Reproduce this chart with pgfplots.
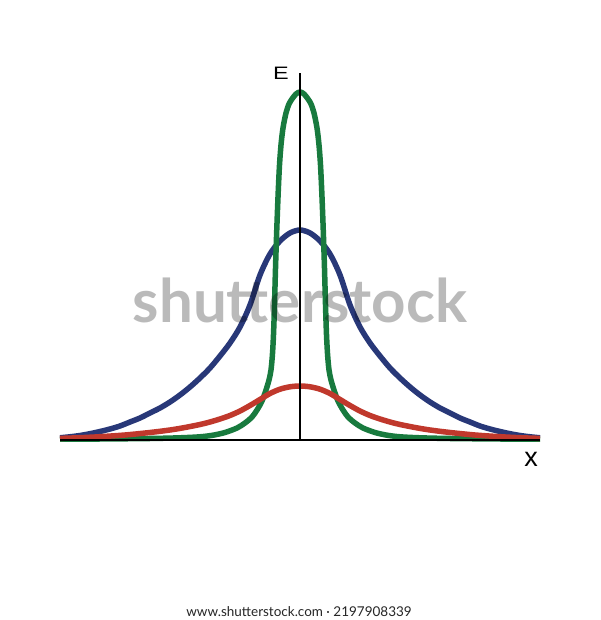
\documentclass[border=0pt]{standalone}
\usepackage{pgfplots}
\pgfplotsset{compat=1.18}
\usepackage{fontspec}
\setmainfont{Lato}
\newfontfamily\labelfont{Liberation Sans}
\definecolor{cgreen}{RGB}{24,122,62}
\definecolor{cblue}{RGB}{40,56,120}
\definecolor{cred}{RGB}{192,56,44}
\begin{document}
\begin{tikzpicture}[x=1pt,y=1pt]
\fill[white] (0,0) rectangle (600,620);
\begin{axis}[
  at={(60,180)}, anchor=south west,
  scale only axis, width=480pt, height=367pt,
  xmin=-240, xmax=240, ymin=0, ymax=367,
  axis lines=middle, axis on top,
  axis line style={-, line width=1.2pt, black},
  xtick=\empty, ytick=\empty,
  clip=false,
]
\addplot[cblue, line width=5.5pt, smooth, tension=0.5, line join=round] coordinates {
(-240,2.2) (-230,3.2) (-220,4.5) (-210,6.3) (-200,8.5) (-190,11) (-180,14) (-170,18) (-160,22) (-150,27) (-140,32) (-130,38) (-120,45) (-110,53) (-100,62) (-90,72) (-80,84) (-70,97) (-60,113) (-50,135) (-40,165) (-30,186) (-20,199) (-10,207) (0,210)
(10,207) (20,199) (30,186) (40,165) (50,135) (60,113) (70,97) (80,84) (90,72) (100,62) (110,53) (120,45) (130,38) (140,32) (150,27) (160,22) (170,18) (180,14) (190,11) (200,8.5) (210,6.3) (220,4.5) (230,3.2) (240,2.2)
};
\addplot[cgreen, line width=5.5pt, smooth, tension=0.5, line join=round] coordinates {
(-240,0.8) (-200,1) (-150,1.5) (-120,2.2) (-100,3.2) (-87,4.8) (-75,7.5) (-63,12) (-55,17) (-48,23) (-43,30) (-38,39) (-34,50) (-31,60) (-29,70) (-27.6,85) (-26.6,103) (-25.8,125) (-25.1,150) (-24.4,175) (-23.6,200) (-22.7,225) (-21.7,250) (-20.5,275) (-19,295) (-17,312) (-14,327) (-11,336) (-8,341) (-4,346) (0,348)
(4,346) (8,341) (11,336) (14,327) (17,312) (19,295) (20.5,275) (21.7,250) (22.7,225) (23.6,200) (24.4,175) (25.1,150) (25.8,125) (26.6,103) (27.6,85) (29,70) (31,60) (34,50) (38,39) (43,30) (48,23) (55,17) (63,12) (75,7.5) (87,4.8) (100,3.2) (120,2.2) (150,1.5) (200,1) (240,0.8)
};
\addplot[cred, line width=5.5pt, smooth, tension=0.5, line join=round] coordinates {
(-240,1.6) (-220,2.3) (-200,3.3) (-175,5) (-150,7.5) (-130,10) (-115,12.5) (-100,15.5) (-90,18) (-80,21) (-70,24.5) (-60,29) (-50,34.5) (-40,40.5) (-30,46.5) (-20,50.8) (-10,53.2) (0,54)
(10,53.2) (20,50.8) (30,46.5) (40,40.5) (50,34.5) (60,29) (70,24.5) (80,21) (90,18) (100,15.5) (115,12.5) (130,10) (150,7.5) (175,5) (200,3.3) (220,2.3) (240,1.6)
};
\end{axis}
\node[anchor=base, font=\labelfont\fontsize{18}{18}\selectfont, xscale=1.3] at (281,540) {E};
\node[anchor=base, font=\labelfont\fontsize{27}{27}\selectfont] at (531,153) {x};
\node[anchor=base, font=\bfseries\fontsize{60}{60}\selectfont, text=black, text opacity=0.27] at (300,297) {shutterstock};
\node[anchor=base, font=\fontsize{13.5}{16}\selectfont, text=black!85] at (299,4) {www.shutterstock.com · 2197908339};
\end{tikzpicture}
\end{document}
